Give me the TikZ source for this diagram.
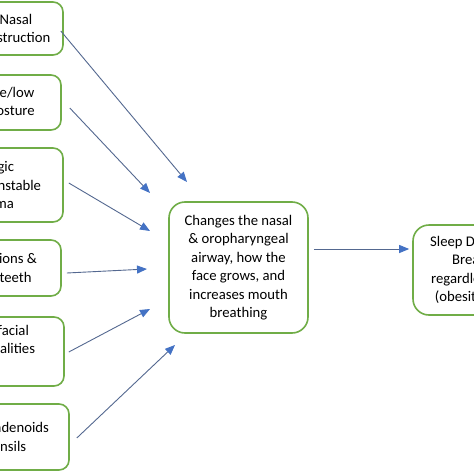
\documentclass[tikz,border=0pt]{standalone}
\usepackage{fontspec}
\setmainfont{Carlito}
\usetikzlibrary{arrows.meta,calc}
\definecolor{boxgreen}{RGB}{112,173,71}
\definecolor{linkblue}{RGB}{84,104,144}
\definecolor{tipblue}{RGB}{68,114,196}

\begin{document}
\begin{tikzpicture}[
  x=1pt,y=-1pt,
  causebox/.style={draw=boxgreen, line width=1.6pt, rounded corners=10pt, fill=white, align=center, inner sep=0pt, font=\fontsize{14.7}{18.5}\selectfont},
  effectbox/.style={causebox, rounded corners=16pt},
  flow/.style={-{Triangle[length=10pt,width=8pt,color=tipblue]}, line width=0.9pt, draw=linkblue}
]
\useasboundingbox (0,0) rectangle (474,474);
\fill[white] (0,0) rectangle (474,474);
\clip (0,0) rectangle (474,474);

% causes, cut off at the left edge
\node[causebox, minimum width=94pt, minimum height=53pt] (nasal) at (16,28.5)
  {Nasal\\obstruction};
\node[causebox, minimum width=144pt, minimum height=55pt] (tongue) at (-11,102.5)
  {Tongue-tie/low\\tongue posture};
\node[causebox, minimum width=142pt, minimum height=74pt] (asthma) at (-8,185)
  {Allergic\\rhinitis/unstable\\asthma};
\node[causebox, minimum width=146pt, minimum height=56pt] (teeth) at (-12,268)
  {Malocclusions \&\\crowded teeth};
\node[causebox, minimum width=140pt, minimum height=69pt] (facial) at (-6,351.5)
  {Craniofacial\\abnormalities\\[6pt]};
\node[causebox, minimum width=150pt, minimum height=66pt] (adenoids) at (-6,437)
  {Enlarged adenoids\\and tonsils};

\node[effectbox, minimum width=139pt, minimum height=131pt] (airway) at (238.5,267.5)
  {Changes the nasal\\\& oropharyngeal\\airway, how the\\face grows, and\\increases mouth\\breathing};
\node[effectbox, minimum width=136pt, minimum height=90pt] (sdb) at (481,270)
  {Sleep Disordered\\Breathing\\regardless of the\\(obesity or not)};

\coordinate (t1) at (187,182);
\coordinate (t2) at (150,193);
\coordinate (t3) at (150,231);
\coordinate (t4) at (147,269);
\coordinate (t5) at (150,309);
\coordinate (t6) at (175,345);
\coordinate (t7) at ($(sdb.west)+(-3,-21)$);

\draw[flow] ($(nasal.east)+(-3,2.5)$) -- (t1);
\draw[flow] ($(tongue.east)+(8,5.5)$) -- (t2);
\draw[flow] ($(asthma.east)+(5,-2)$) -- (t3);
\draw[flow] ($(teeth.east)+(5,5)$) -- (t4);
\draw[flow] ($(facial.east)+(4,0.5)$) -- (t5);
\draw[flow] ($(adenoids.east)+(7,1)$) -- (t6);
\draw[flow] ($(airway.east)+(5,-18.5)$) -- (t7);
\end{tikzpicture}
\end{document}
